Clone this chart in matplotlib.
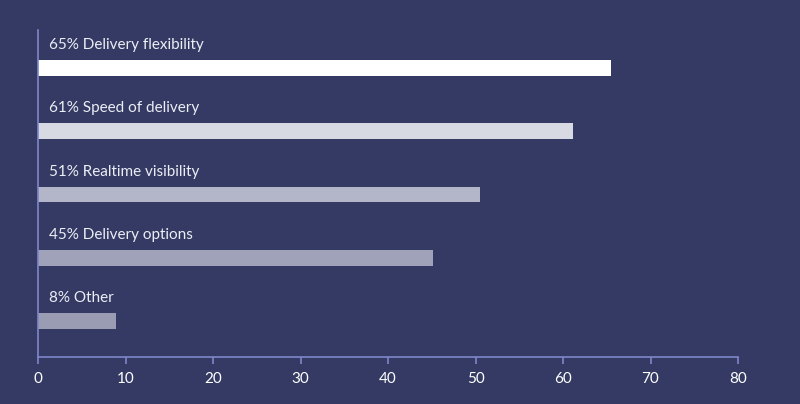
import matplotlib.pyplot as plt

labels = ["65% Delivery flexibility", "61% Speed of delivery", "51% Realtime visibility",
          "45% Delivery options", "8% Other"]
values = [65.5, 61.1, 50.5, 45.1, 8.9]
colors = ["#ffffff", "#d8dae3", "#b3b5c8", "#a0a2b9", "#9a9cb4"]
xticks = [0, 10, 20, 30, 40, 50, 60, 70, 80]

bg = "#343a63"
axc = "#7f86c9"
plt.rcParams["font.family"] = ["Lato", "DejaVu Sans"]

fig = plt.figure(figsize=(8, 4.04), dpi=100, facecolor=bg)
ax = fig.add_axes([0.0475, 0.1163, 0.875, 0.8094], facecolor=bg)

pos = list(range(len(values)))[::-1]
ax.barh(pos, values, height=0.25, color=colors)
for p, lab in zip(pos, labels):
    ax.text(1.3, p + 0.36, lab, color="#eceef5", fontsize=11, va="center", ha="left")

ax.set_xlim(0, 80)
ax.set_ylim(-0.57, 4.6)
ax.set_xticks(xticks)
ax.set_yticks([])
for s in ["top", "right"]:
    ax.spines[s].set_visible(False)
for s in ["left", "bottom"]:
    ax.spines[s].set_color(axc)
    ax.spines[s].set_linewidth(1.2)
ax.tick_params(axis="x", colors=axc, labelcolor="#ffffff", labelsize=11, length=5, width=1.2, pad=6)

fig.savefig("out.png", dpi=100, facecolor=bg)
